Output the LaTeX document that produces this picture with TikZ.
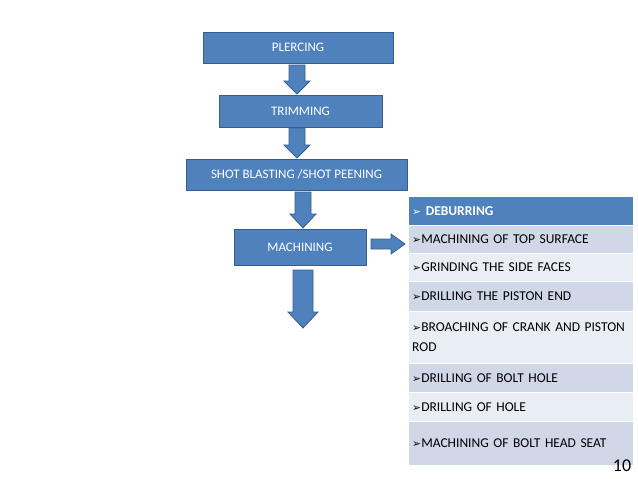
\documentclass[tikz,border=0pt]{standalone}
\usepackage{fontspec}
\setmainfont{Carlito}
\newfontfamily\symf{DejaVu Sans}
\newcommand\arr{{\symf\scalebox{0.8}{➢}}}
\definecolor{bfill}{HTML}{4F81BD}
\definecolor{bdraw}{HTML}{385D8A}
\definecolor{rowa}{HTML}{D0D8E8}
\definecolor{rowb}{HTML}{E9EDF4}
\newcommand\myDown[6]{% cx, top, bottom, shaft hw, head hw, head len
  \filldraw[fill=bfill,draw=bdraw,line width=0.8pt] (#1-#4,#2) -- (#1+#4,#2) -- (#1+#4,#3-#6) -- (#1+#5,#3-#6) -- (#1,#3) -- (#1-#5,#3-#6) -- (#1-#4,#3-#6) -- cycle;}
\begin{document}
\begin{tikzpicture}[x=1pt,y=-1pt,
  box/.style={draw=bdraw,fill=bfill,line width=0.8pt,text=white,font=\fontsize{13}{15}\selectfont,inner sep=0pt},
  cell/.style={anchor=north west,minimum width=224pt,text width=218pt,inner sep=0pt,inner xsep=3pt,align=left,font=\fontsize{13.5}{20}\selectfont}]
\useasboundingbox (0,0) rectangle (638,479);
\node[box,minimum width=190pt,minimum height=31pt] (p) at (298,47.5) {PLERCING};
\node[box,minimum width=163pt,minimum height=32pt] (t) at (300.5,111) {TRIMMING};
\node[box,minimum width=221pt,minimum height=31pt] (s) at (296.5,174.5) {SHOT BLASTING /SHOT PEENING};
\node[box,minimum width=132pt,minimum height=36pt] (m) at (300,247) {MACHINING};
\myDown{297}{65}{94}{8}{13}{13}
\myDown{297}{128}{158}{8}{13}{13}
\myDown{303}{192}{228}{8}{13}{14}
\myDown{303}{270}{328}{10}{15}{16}
\filldraw[fill=bfill,draw=bdraw,line width=0.8pt] (371,239) -- (391,239) -- (391,234) -- (405,244) -- (391,254) -- (391,249) -- (371,249) -- cycle;
\node[cell,fill=bfill,text=white,minimum height=28pt,font=\bfseries\fontsize{13.5}{20}\selectfont] (h) at (409,197) {\arr\ DEBURRING};
\node[cell,fill=rowa,minimum height=28pt] (r1) at (409,225) {\arr MACHINING OF TOP SURFACE};
\node[cell,fill=rowb,minimum height=28pt] (r2) at (409,253) {\arr GRINDING THE SIDE FACES};
\node[cell,fill=rowa,minimum height=30pt] (r3) at (409,281) {\arr DRILLING THE PISTON END};
\node[cell,fill=rowb,minimum height=52pt] (r4) at (409,311) {\arr BROACHING OF CRANK AND PISTON ROD};
\node[cell,fill=rowa,minimum height=29pt] (r5) at (409,363) {\arr DRILLING OF BOLT HOLE};
\node[cell,fill=rowb,minimum height=29pt] (r6) at (409,392) {\arr DRILLING OF HOLE};
\node[cell,fill=rowa,minimum height=44pt] (r7) at (409,421) {\arr MACHINING OF BOLT HEAD SEAT};
\draw[white,line width=0.8pt] (409,225)--(633,225) (409,253)--(633,253) (409,281)--(633,281) (409,311)--(633,311) (409,363)--(633,363) (409,392)--(633,392) (409,421)--(633,421);
\node[font=\fontsize{18}{20}\selectfont] (n) at (622,466) {10};
\end{tikzpicture}
\end{document}
